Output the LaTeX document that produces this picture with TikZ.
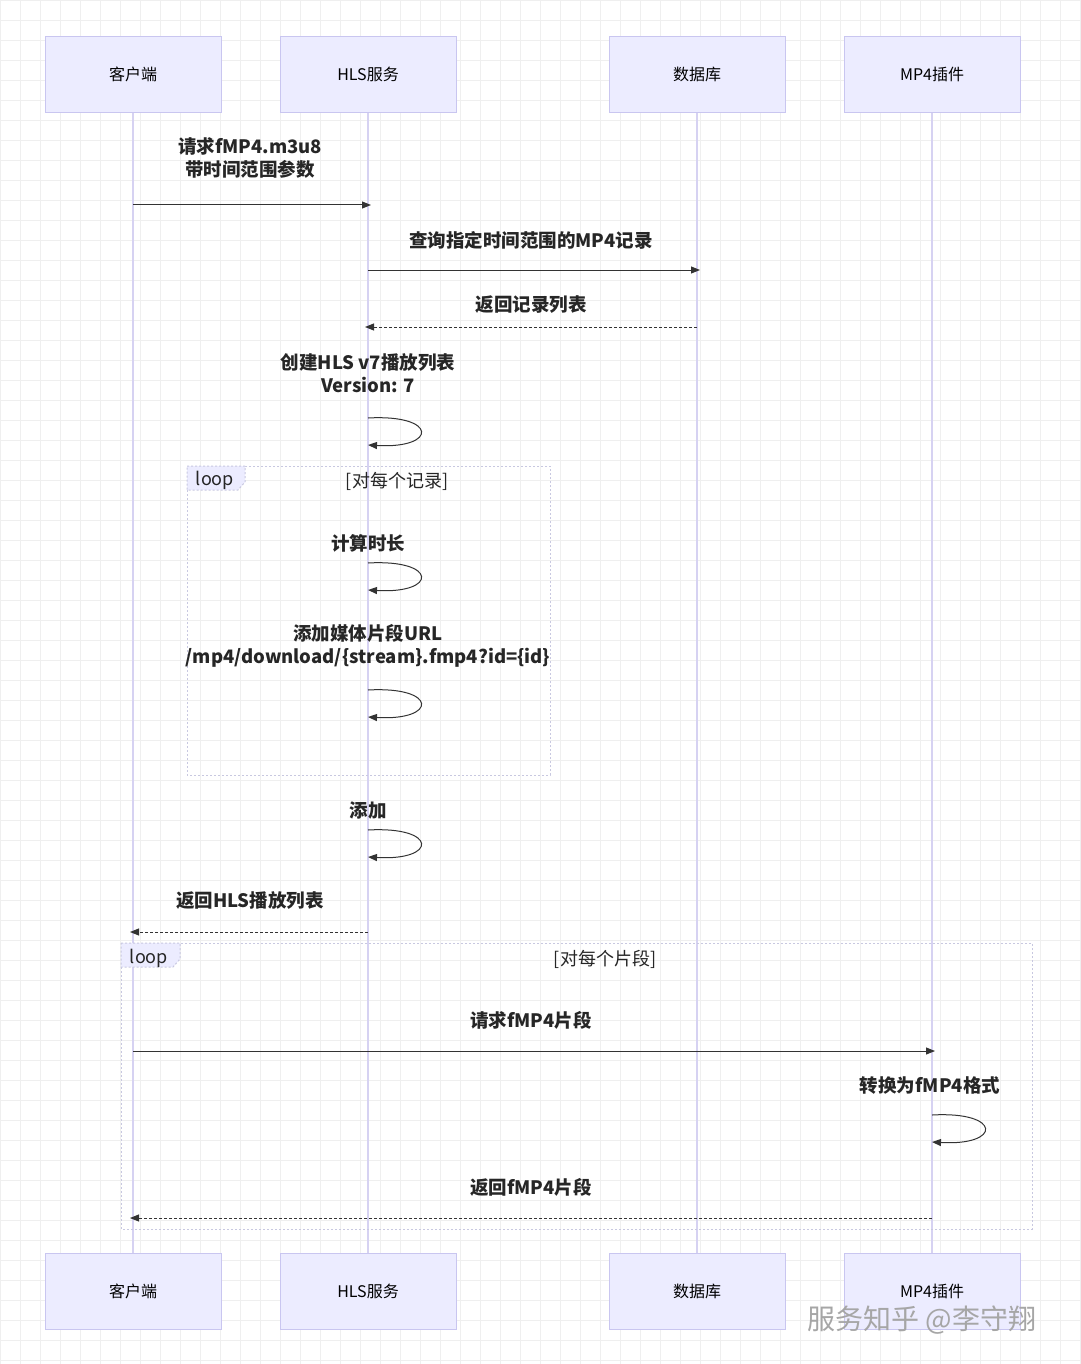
\documentclass[tikz,border=0pt]{standalone}
\usepackage{fontspec}
\setmainfont{Noto Sans CJK SC}
\usetikzlibrary{arrows.meta}
\definecolor{actfill}{HTML}{ECECFF}
\definecolor{actdraw}{HTML}{C9C6F0}
\definecolor{life}{HTML}{D6D2F2}
\definecolor{gridc}{HTML}{EFEFEF}
\definecolor{loopc}{HTML}{C8C8E0}
\tikzset{
 actor/.style={draw=actdraw,fill=actfill,minimum width=176pt,minimum height=76pt,font=\fontsize{16}{18}\selectfont},
 msg/.style={font=\bfseries\fontsize{18.5}{23}\selectfont,align=center,text=black!85},
 arr/.style={draw=black!80,line width=1pt,-{Triangle[length=9pt,width=7pt]}},
 darr/.style={arr,dash pattern=on 3pt off 2pt},
 loopbox/.style={draw=loopc,line width=1pt,dash pattern=on 2pt off 2pt},
 looplbl/.style={font=\fontsize{18}{20}\selectfont,text=black!85}
}
\begin{document}
\begin{tikzpicture}[x=1pt,y=-1pt]
\useasboundingbox (0,0) rectangle (1080,1364);
\fill[white] (0,0) rectangle (1080,1364);
\foreach \i in {0,20,...,1080} \draw[gridc] (\i,0) -- (\i,1364);
\foreach \j in {0,20,...,1364} \draw[gridc] (0,\j) -- (1080,\j);
% actors
\foreach \n/\x/\t in {c/133/客户端,h/368/HLS服务,d/697/数据库,m/932/MP4插件}{
 \draw[life,line width=1.5pt] (\x,112) -- (\x,1253);
 \node[actor] (\n top) at (\x,74) {\t};
 \node[actor] (\n bot) at (\x,1291) {\t};
}
% loop boxes
\draw[loopbox] (187,466) rectangle (550,775);
\draw[loopbox,fill=actfill] (187,466) -- (245,466) -- (245,482) -- (238,490) -- (187,490) -- cycle;
\node[looplbl] (l1) at (215,480) {loop};
\node[looplbl] (l1c) at (397,481) {[对每个记录]};
\draw[loopbox] (121,943) rectangle (1032,1229);
\draw[loopbox,fill=actfill] (121,943) -- (180,943) -- (180,959) -- (173,967) -- (121,967) -- cycle;
\node[looplbl] (l2) at (149,958) {loop};
\node[looplbl] (l2c) at (605,959) {[对每个片段]};
% coordinates
\foreach \n/\x/\y in {a1/133/205,b1/371/205,a2/368/270,b2/700/270,a3/697/327,b3/365/327,a9/368/932,b9/130/932,a11/133/1051,b11/935/1051,a13/932/1218,b13/130/1218}
 \coordinate (\n) at (\x,\y);
\node[msg] (t1) at (250,158) {请求fMP4.m3u8\\带时间范围参数};
\draw[arr] (a1) -- (b1);
\node[msg] (t2) at (531,240) {查询指定时间范围的MP4记录};
\draw[arr] (a2) -- (b2);
\node[msg] (t3) at (531,305) {返回记录列表};
\draw[darr] (a3) -- (b3);
\node[msg] (t4) at (368,373) {创建HLS v7播放列表\\Version: 7};
\node[msg] (t6) at (368,543) {计算时长};
\node[msg] (t7) at (368,646) {添加媒体片段URL\\/mp4/download/\{stream\}.fmp4?id=\{id\}};
\node[msg] (t8) at (368,810) {添加};
\foreach \x/\y in {368/418,368/563,368/690,368/830,932/1115}{
 \coordinate (s\y) at (\x,\y);
 \coordinate (e\y) at (\x,\y+27);
 \draw[arr] (s\y) .. controls (\x+70,\y-4) and (\x+70,\y+31) .. (e\y);
}
\node[msg] (t9) at (250,901) {返回HLS播放列表};
\draw[darr] (a9) -- (b9);
\node[msg] (t11) at (531,1020) {请求fMP4片段};
\draw[arr] (a11) -- (b11);
\node[msg] (t12) at (930,1085) {转换为fMP4格式};
\node[msg] (t13) at (531,1187) {返回fMP4片段};
\draw[darr] (a13) -- (b13);
\node[font=\fontsize{28}{30}\selectfont,text=black!35] (wm) at (922,1320) {服务知乎 @李守翔};
\end{tikzpicture}
\end{document}
